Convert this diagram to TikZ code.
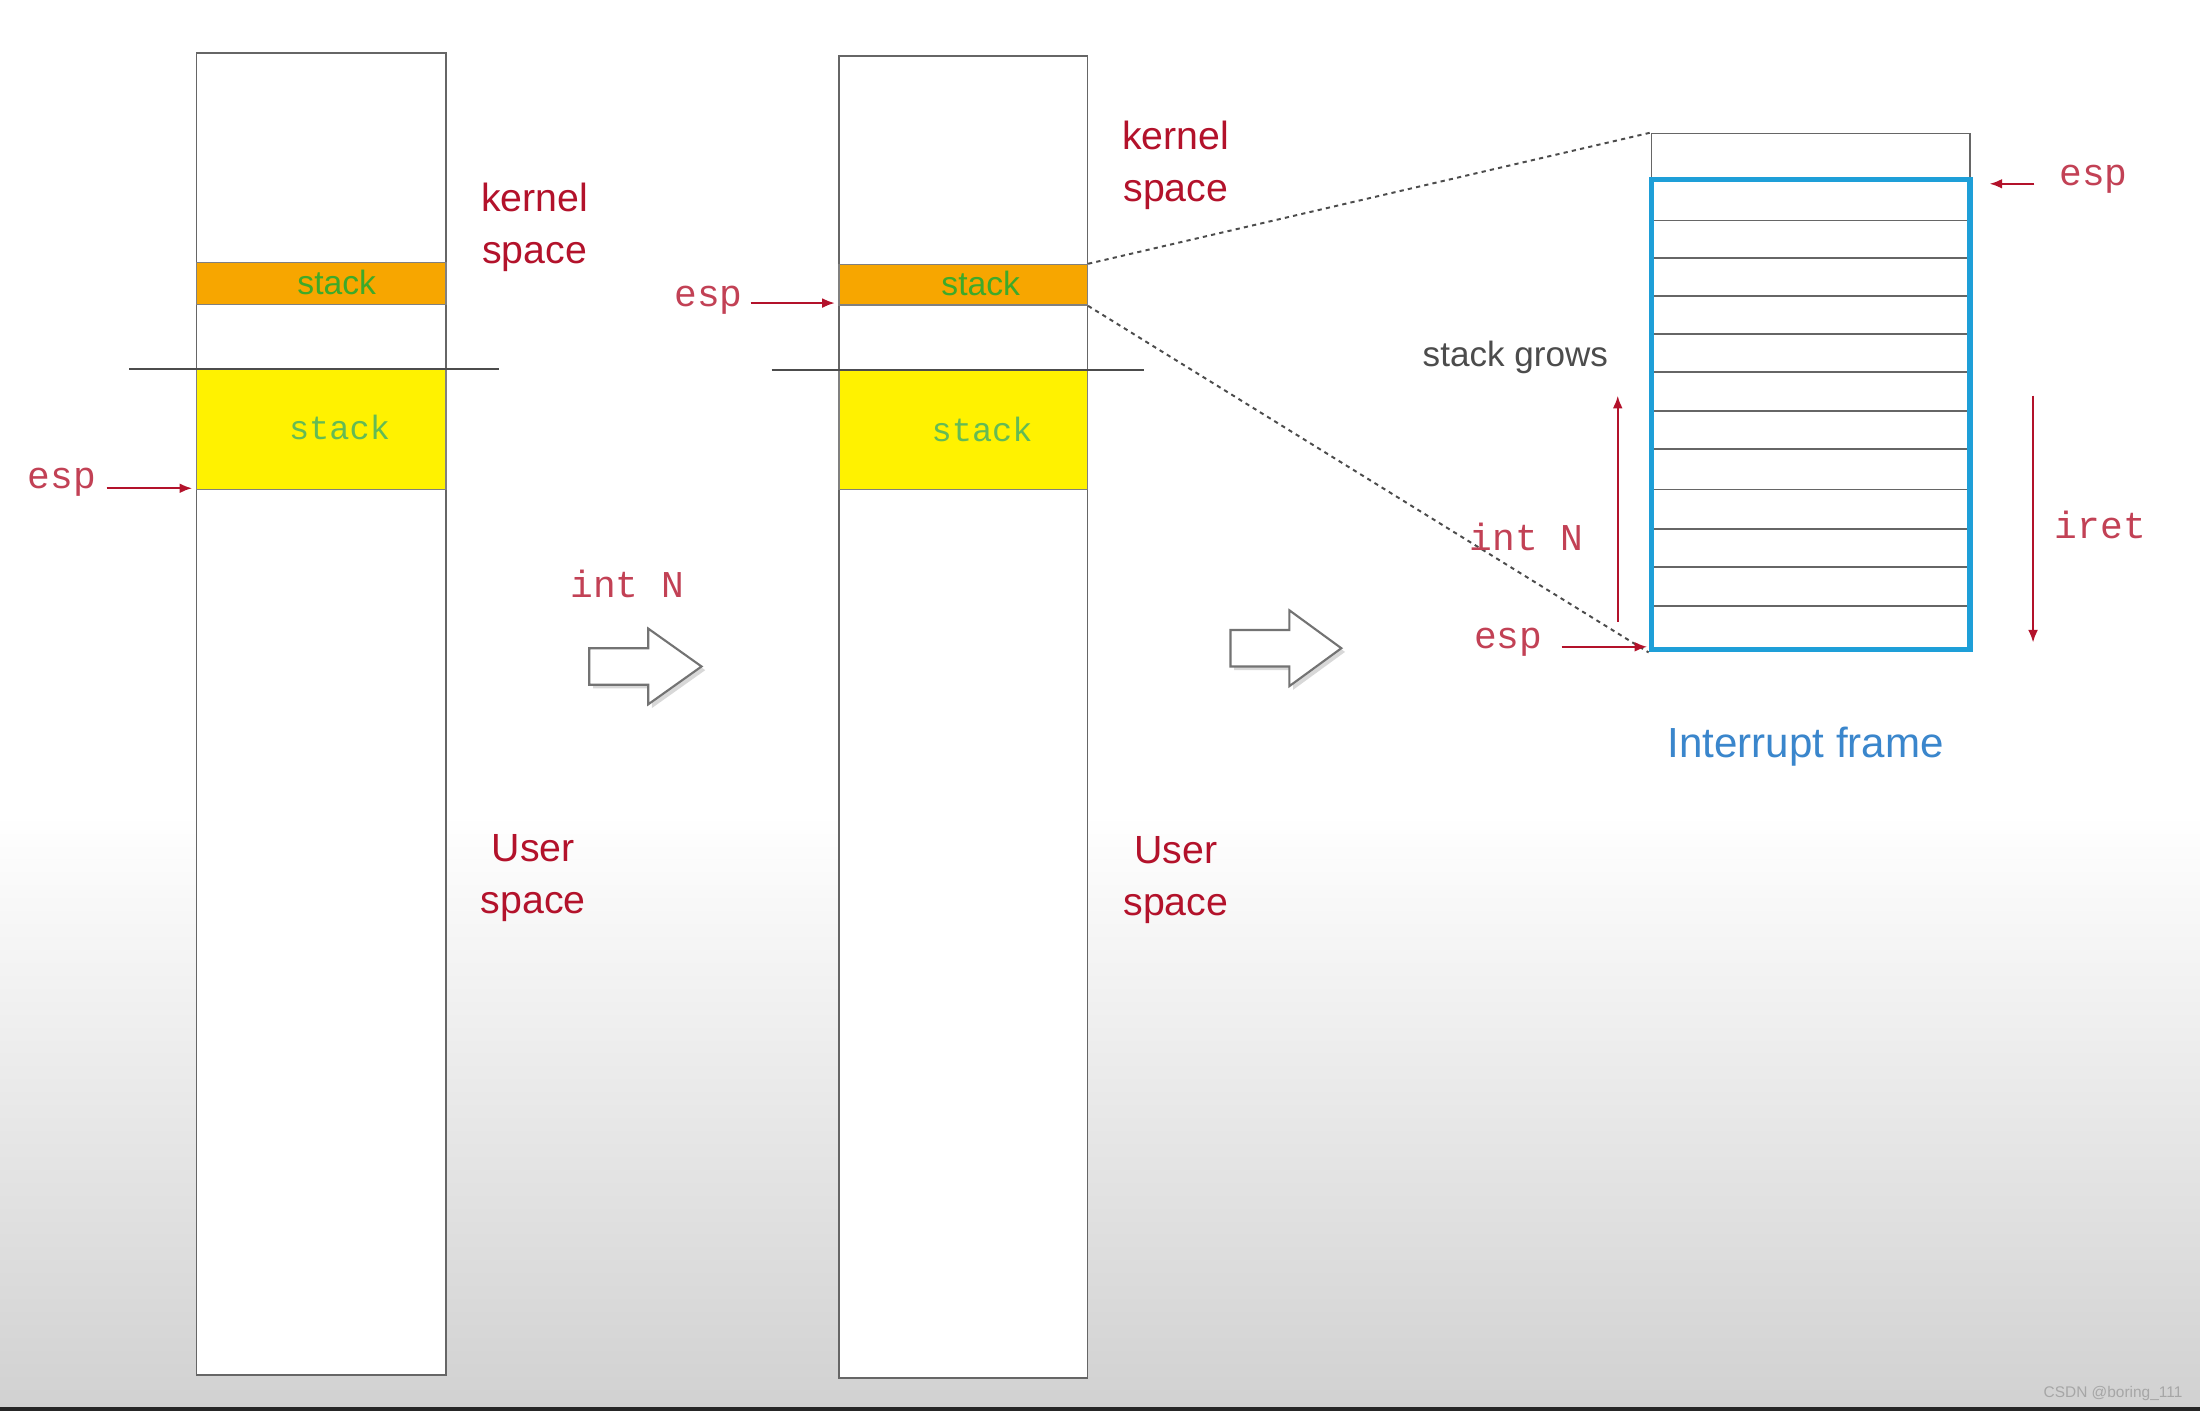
\documentclass[tikz,border=0pt]{standalone}
\usepackage{fontspec}
\setmainfont{Liberation Sans}
\newfontfamily\monof{Liberation Mono}
\usetikzlibrary{arrows.meta,shadows}
\definecolor{lbl}{HTML}{B3122B}
\definecolor{grn}{HTML}{3DAA2A}
\definecolor{frm}{HTML}{1E9FD8}
\definecolor{ttl}{HTML}{3A86CC}
\definecolor{org}{HTML}{F7A600}
\begin{document}
\begin{tikzpicture}[x=1pt,y=-1pt,
  col/.style={draw=black!60,line width=1.2pt,fill=white},
  ostack/.style={draw=black!50,fill=org,line width=1pt},
  ystack/.style={draw=black!50,fill=yellow,line width=1pt},
  lab/.style={text=lbl,font=\fontsize{28}{37}\selectfont,align=center},
  mono/.style={text=lbl!80!white,font=\monof\fontsize{27}{32}\selectfont},
  grt/.style={text=grn,font=\fontsize{24}{28}\selectfont},
  grm/.style={text=grn!80!white,font=\monof\fontsize{24}{28}\selectfont},
  rarr/.style={-{Latex[length=9pt,width=7pt]},draw=lbl,line width=1.5pt},
  blk/.style={draw=black!55,fill=white,line width=1.5pt,drop shadow={opacity=0.3}},
  dsh/.style={dashed,draw=black!70,line width=1.4pt}]
\useasboundingbox (0,0) rectangle (1568,1006);
\shade[top color=white,bottom color=white] (0,0) rectangle (1568,580);
\shade[top color=white,bottom color=black!18] (0,580) rectangle (1568,1003);
\fill[black!85] (0,1003) rectangle (1568,1006);
% left column
\node[col,minimum width=178pt,minimum height=942pt,inner sep=0] (c1) at (229,509) {};
\node[ostack,minimum width=178pt,minimum height=30pt,inner sep=0] (o1) at (229,202) {};
\node[grt] at (240,201) {stack};
\node[ystack,minimum width=178pt,minimum height=86pt,inner sep=0] (y1) at (229,306) {};
\node[grm] at (242,305) {stack};
\coordinate (l1a) at (92,263); \coordinate (l1b) at (356,263);
\draw[black!70,line width=1.3pt] (l1a) -- (l1b);
\node[mono] (e1) at (44,344) {esp};
\coordinate (e1s) at (76,348);
\coordinate (e1t) at (137,348);
\draw[rarr] (e1s) -- (e1t);
\node[lab] at (381,162) {kernel\\space};
\node[lab] at (380,626) {User\\space};
% middle column
\node[col,minimum width=177pt,minimum height=942pt,inner sep=0] (c2) at (686.5,511) {};
\node[ostack,minimum width=177pt,minimum height=29pt,inner sep=0] (o2) at (686.5,203) {};
\node[grt] at (699,202) {stack};
\node[ystack,minimum width=177pt,minimum height=85pt,inner sep=0] (y2) at (686.5,306.5) {};
\node[grm] at (700,306) {stack};
\coordinate (l2a) at (550,264); \coordinate (l2b) at (815,264);
\draw[black!70,line width=1.3pt] (l2a) -- (l2b);
\node[mono] (e2) at (505,214) {esp};
\coordinate (e2s) at (535,216);
\coordinate (e2t) at (595,216);
\draw[rarr] (e2s) -- (e2t);
\node[lab] at (838,118) {kernel\\space};
\node[lab] at (838,627) {User\\space};
\node[mono] at (447,416) {int N};
% block arrows
\draw[blk] (420,462) -- (462,462) -- (462,448) -- (500,475) -- (462,502) -- (462,488) -- (420,488) -- cycle;
\draw[blk] (877,449) -- (919,449) -- (919,435) -- (956,462) -- (919,489) -- (919,475) -- (877,475) -- cycle;
% frame
\node[draw=black!60,line width=1pt,minimum width=227pt,minimum height=33pt,inner sep=0] (ft) at (1290.5,111.5) {};
\node[draw=frm,line width=4pt,minimum width=227pt,minimum height=335pt,inner sep=0] (fr) at (1290.5,295.5) {};
\foreach \yy in {157,184,211,238,265,293,320,349,377,404,432}
  \draw[black!60,line width=1pt] (1179,\yy) -- (1402,\yy);
\draw[dsh] (o2.north east) -- (ft.north west);
\draw[dsh] (o2.south east) -- (fr.south west);
\node[mono] (e3) at (1492,128) {esp};
\coordinate (e3s) at (1450,131); \coordinate (e3t) at (1418,131);
\draw[rarr] (e3s) -- (e3t);
\node[text=black!70,font=\fontsize{25}{30}\selectfont] at (1080,255) {stack grows};
\coordinate (g1) at (1153,443); \coordinate (g2) at (1153,282);
\draw[rarr] (g1) -- (g2);
\node[mono] at (1088,383) {int N};
\node[mono] (e4) at (1075,458) {esp};
\coordinate (e4s) at (1113,461); \coordinate (e4t) at (1174,461);
\draw[rarr] (e4s) -- (e4t);
\coordinate (r1) at (1449,282); \coordinate (r2) at (1449,458);
\draw[rarr] (r1) -- (r2);
\node[mono] at (1497,374) {iret};
\node[text=ttl,font=\fontsize{30}{36}\selectfont] at (1287,532) {Interrupt frame};
\node[text=black!35,font=\fontsize{11}{13}\selectfont] at (1506,993) {CSDN @boring\_111};
\end{tikzpicture}
\end{document}
